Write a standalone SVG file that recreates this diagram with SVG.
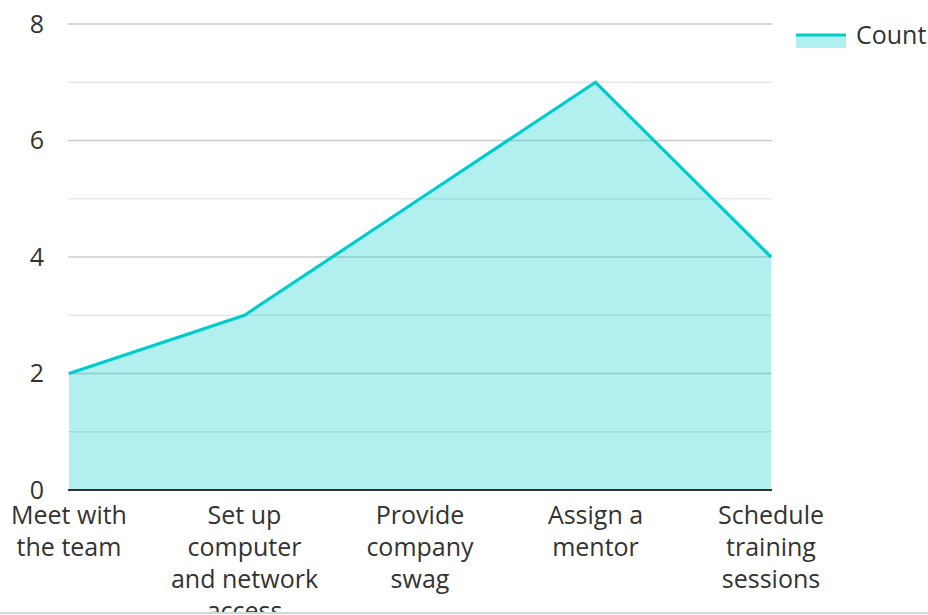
<svg xmlns="http://www.w3.org/2000/svg" width="928" height="615" viewBox="0 0 928 615">
<style>
.major{stroke:#cccccc;stroke-width:1.5}
.minor{stroke:#e8e8e8;stroke-width:1.5}
.t{font-family:"Open Sans","Noto Sans",sans-serif;font-size:25px;fill:#333333}
.ya{text-anchor:end}
.xa{text-anchor:middle}
</style>
<defs><clipPath id="c"><rect x="0" y="0" width="928" height="612"/></clipPath></defs>
<rect width="928" height="615" fill="#ffffff"/>
<g id="grid">
<line class="major" x1="68" y1="24" x2="772" y2="24"/>
<line class="minor" x1="68" y1="82.25" x2="772" y2="82.25"/>
<line class="major" x1="68" y1="140.5" x2="772" y2="140.5"/>
<line class="minor" x1="68" y1="198.75" x2="772" y2="198.75"/>
<line class="major" x1="68" y1="257" x2="772" y2="257"/>
<line class="minor" x1="68" y1="315.25" x2="772" y2="315.25"/>
<line class="major" x1="68" y1="373.5" x2="772" y2="373.5"/>
<line class="minor" x1="68" y1="431.75" x2="772" y2="431.75"/>
</g>
<g id="series">
<polygon points="69,373.5 244.5,315.25 420,198.75 595.5,82.25 771,257 771,490 69,490" fill="#00cccc" fill-opacity="0.3"/>
<polyline points="69,373.5 244.5,315.25 420,198.75 595.5,82.25 771,257" fill="none" stroke="#00cccc" stroke-width="3.2" stroke-linejoin="miter"/>
</g>
<line id="axis" x1="68" y1="490" x2="772" y2="490" stroke="#333333" stroke-width="2"/>
<g id="yaxis">
<text class="t ya" x="44" y="32.5">8</text>
<text class="t ya" x="44" y="149">6</text>
<text class="t ya" x="44" y="265.5">4</text>
<text class="t ya" x="44" y="382">2</text>
<text class="t ya" x="44" y="498.5">0</text>
</g>
<g id="xaxis" clip-path="url(#c)">
<text class="t xa" x="69" y="524">Meet with<tspan x="69" dy="32">the team</tspan></text>
<text class="t xa" x="244.5" y="524">Set up<tspan x="244.5" dy="32">computer</tspan><tspan x="244.5" dy="32">and network</tspan><tspan x="244.5" dy="32">access</tspan></text>
<text class="t xa" x="420" y="524">Provide<tspan x="420" dy="32">company</tspan><tspan x="420" dy="32">swag</tspan></text>
<text class="t xa" x="595.5" y="524">Assign a<tspan x="595.5" dy="32">mentor</tspan></text>
<text class="t xa" x="771" y="524">Schedule<tspan x="771" dy="32">training</tspan><tspan x="771" dy="32">sessions</tspan></text>
</g>
<g id="legend">
<rect x="796" y="35" width="50" height="13" fill="#00cccc" fill-opacity="0.3"/>
<line x1="796" y1="35" x2="846" y2="35" stroke="#00cccc" stroke-width="3"/>
<text class="t" x="856" y="44">Count</text>
</g>
<line id="frame" x1="0" y1="613" x2="928" y2="613" stroke="#d6d6d6" stroke-width="2"/>
</svg>
